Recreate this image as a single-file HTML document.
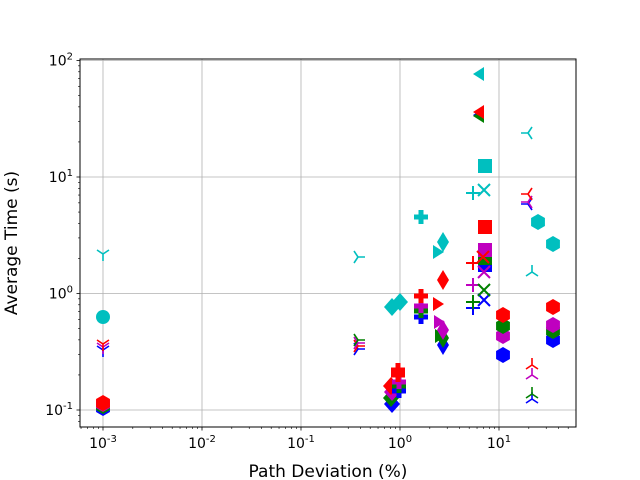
<!DOCTYPE html>
<html><head><meta charset="utf-8"><style>
body{margin:0;background:#fff}
svg{display:block;font-family:"DejaVu Sans","Liberation Sans",sans-serif}
</style></head><body>
<svg id="s" width="640" height="480" xmlns="http://www.w3.org/2000/svg">
<rect width="640" height="480" fill="#fff"/>
<g id="grid"></g>
<g id="pts"></g>
<rect x="80" y="59" width="496" height="368" fill="none" stroke="#000" stroke-width="1"/>
<g id="ticks"></g>
<text x="328" y="477" font-size="17" text-anchor="middle">Path Deviation (%)</text>
<text transform="translate(17,243) rotate(-90)" font-size="17" text-anchor="middle">Average Time (s)</text>
</svg>
<script>
const NS="http://www.w3.org/2000/svg";
function el(p,t,a,txt){const e=document.createElementNS(NS,t);for(const k in a)e.setAttribute(k,a[k]);if(txt!==undefined)e.textContent=txt;document.getElementById(p).appendChild(e);return e;}
const X=e=>103+(e+3)*99, Y=e=>410-(e+1)*116.5;
for(let d=-3;d<=1;d++){const x=X(d);
 el('grid','line',{x1:x,y1:59,x2:x,y2:427,stroke:'#b0b0b0','stroke-width':0.8});
 el('ticks','line',{x1:x,y1:427,x2:x,y2:430.5,stroke:'#000','stroke-width':0.8});
 const t=el('ticks','text',{x:x,y:448,'font-size':14,'text-anchor':'middle'},'10');
 const ts=document.createElementNS(NS,'tspan');ts.setAttribute('dy','-6');ts.setAttribute('font-size','10');ts.textContent=d;t.appendChild(ts);
}
for(let d=-4;d<=1;d++)for(let k=2;k<10;k++){const x=X(d+Math.log10(k));if(x>80&&x<576)el('ticks','line',{x1:x,y1:427,x2:x,y2:429,stroke:'#000','stroke-width':0.6});}
for(let d=-1;d<=2;d++){const y=Y(d);
 el('grid','line',{x1:80,y1:y,x2:576,y2:y,stroke:'#b0b0b0','stroke-width':0.8});
 el('ticks','line',{x1:76.5,y1:y,x2:80,y2:y,stroke:'#000','stroke-width':0.8});
 const t=el('ticks','text',{x:73,y:y+5,'font-size':14,'text-anchor':'end'},'10');
 const ts=document.createElementNS(NS,'tspan');ts.setAttribute('dy','-6');ts.setAttribute('font-size','10');ts.textContent=d;t.appendChild(ts);
}
for(let d=-2;d<=2;d++)for(let k=2;k<10;k++){const y=Y(d+Math.log10(k));if(y>59&&y<427)el('ticks','line',{x1:78,y1:y,x2:80,y2:y,stroke:'#000','stroke-width':0.6});}
const C={b:'#0000ff',g:'#008000',m:'#bf00bf',r:'#ff0000',c:'#00bfbf'};
function poly(n,r,rot){let p=[];for(let i=0;i<n;i++){const a=rot+i*2*Math.PI/n;p.push((r*Math.cos(a)).toFixed(2)+','+(r*Math.sin(a)).toFixed(2));}return p.join(' ');}
function m(type,x,y,c){const col=C[c];const g=el('pts','g',{transform:`translate(${x},${y})`});
 const add=(t,a)=>{const e=document.createElementNS(NS,t);for(const k in a)e.setAttribute(k,a[k]);g.appendChild(e);};
 if(type=='h')add('polygon',{points:poly(6,8,Math.PI/2),fill:col});
 else if(type=='o')add('circle',{r:7,fill:col});
 else if(type=='s')add('rect',{x:-7,y:-7,width:14,height:14,fill:col});
 else if(type=='D')add('polygon',{points:'0,-10 6,0 0,10 -6,0',fill:col});
 else if(type=='Dd')add('polygon',{points:'0,-9 8,0 0,9 -8,0',fill:col});
 else if(type=='<')add('polygon',{points:'-6,0 5,-7 5,7',fill:col});
 else if(type=='>')add('polygon',{points:'6,0 -5,-7 -5,7',fill:col});
 else if(type=='P')add('path',{d:'M-2.5,-7h5v4.5h4.5v5h-4.5v4.5h-5v-4.5h-4.5v-5h4.5z',fill:col});
 else if(type=='+')add('path',{d:'M-7,0h14M0,-7v14',stroke:col,'stroke-width':2,fill:'none'});
 else if(type=='x')add('path',{d:'M-6,-6L6,6M-6,6L6,-6',stroke:col,'stroke-width':2,fill:'none'});
 else if(type=='1')add('path',{d:'M0,0v7M0,0L-6,-4M0,0L6,-4',stroke:col,'stroke-width':1.6,fill:'none'});
 else if(type=='2')add('path',{d:'M0,0v-7M0,0L-6,4M0,0L6,4',stroke:col,'stroke-width':1.6,fill:'none'});
 else if(type=='3')add('path',{d:'M0,0h-7M0,0L4,-6M0,0L4,6',stroke:col,'stroke-width':1.6,fill:'none'});
 else if(type=='4')add('path',{d:'M0,0h7M0,0L-4,-6M0,0L-4,6',stroke:col,'stroke-width':1.6,fill:'none'});
}
const P=[
['h',103,408,'b'],['h',103,406,'g'],['h',103,404,'m'],['h',103,403,'r'],['o',103,317,'c'],
['1',103,350,'b'],['1',103,347,'m'],['1',103,344,'r'],['1',103,254,'c'],
['4',358,349,'b'],['4',358,346,'r'],['4',358,343,'m'],['4',358,340,'g'],['4',358,257,'c'],
['Dd',392,404,'b'],['Dd',391,398,'g'],['Dd',392,392,'m'],['Dd',391,386,'r'],
['P',399,391,'b'],['P',399,386,'g'],['P',399,382,'m'],['P',398,375,'r'],['P',398,370,'r'],
['Dd',392,307,'c'],['Dd',400,302,'c'],
['P',421,317,'b'],['P',421,311,'g'],['P',421,306,'m'],['P',421,296,'r'],['P',421,217,'c'],
['D',443,345,'b'],['D',443,338,'g'],['>',440,336,'g'],['D',443,330,'m'],['>',439,322,'m'],['>',438,304,'r'],['D',443,280,'r'],['>',438,252,'c'],['D',443,242,'c'],
['+',473,308,'b'],['+',473,302,'g'],['+',473,285,'m'],['+',473,263,'r'],['+',473,193,'c'],
['s',485,265,'b'],['s',485,258,'g'],['s',485,250,'m'],['s',485,227,'r'],['s',485,166,'c'],
['x',484,300,'b'],['x',484,290,'g'],['x',484,272,'m'],['x',483,257,'r'],['x',484,190,'c'],
['<',479,115,'b'],['<',479,116,'g'],['<',479,112,'r'],['<',479,74,'c'],
['h',503,355,'b'],['h',503,336,'m'],['h',503,326,'g'],['h',503,315,'r'],
['3',528,204,'b'],['3',528,202,'m'],['3',528,194,'r'],['3',528,133,'c'],
['h',538,222,'c'],
['h',553,340,'b'],['h',553,331,'g'],['h',553,325,'m'],['h',553,307,'r'],['h',553,244,'c'],
['2',532,399,'b'],['2',532,394,'g'],['2',532,375,'m'],['2',532,365,'r'],['2',532,272,'c']
];
P.forEach(p=>m(...p));
</script>
</body></html>
